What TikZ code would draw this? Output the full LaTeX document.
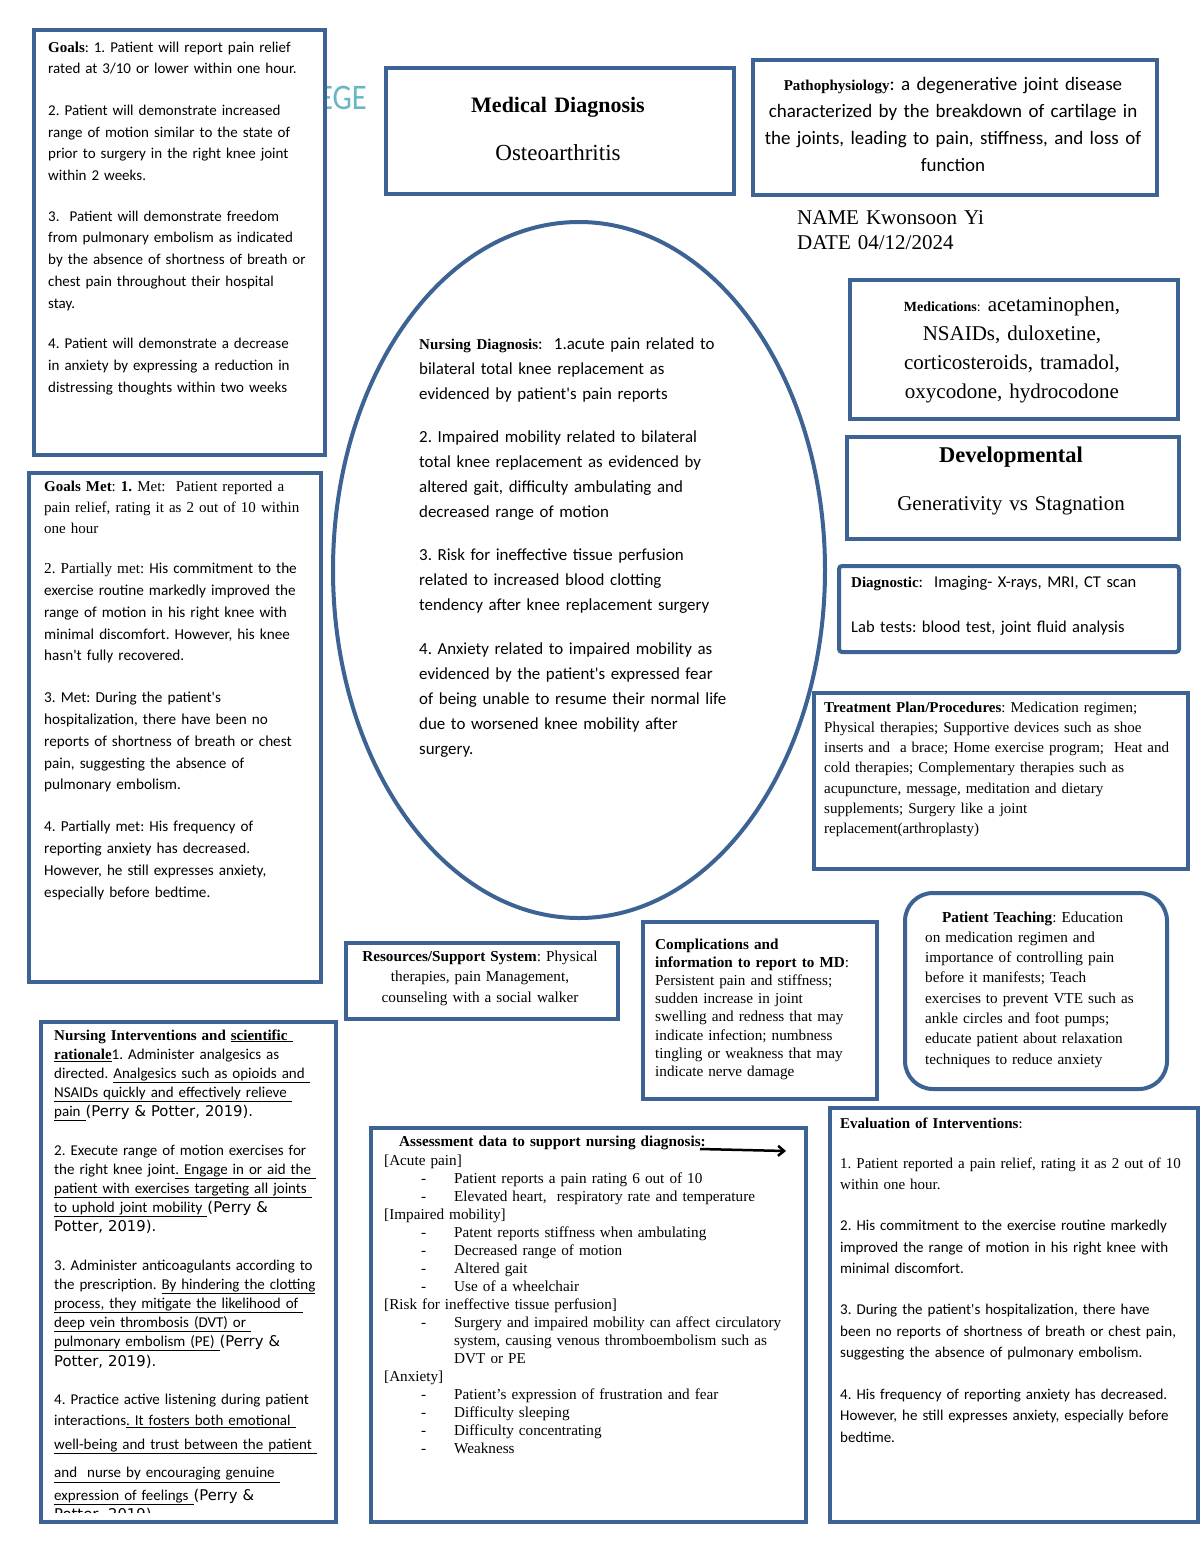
\documentclass[tikz,border=0pt]{standalone}
\usepackage{fontspec}
\setmainfont{Liberation Serif}
\newfontfamily\cf{Carlito}
\newfontfamily\vf{DejaVu Sans}
\usetikzlibrary{shapes.geometric,arrows.meta}
\definecolor{bx}{RGB}{60,99,147}
\definecolor{tealx}{RGB}{105,182,194}
\newcommand\bl{\makebox[70pt][l]{\hspace*{37pt}-}}
\newcommand\ind{\hspace*{70pt}}
\newcommand\cit[1]{{\vf\fontsize{14.8}{19}\selectfont #1}}
\newcommand\hd[1]{\textbf{\rmfamily #1}}
\frenchspacing
\begin{document}
\begin{tikzpicture}[x=1pt,y=-1pt,
  box/.style={draw=bx,line width=4pt,fill=white,inner sep=0pt,anchor=north west},
  txt/.style={inner sep=0pt,align=left,anchor=base west,text width=#1},
  ctxt/.style={inner sep=0pt,align=center,anchor=base,text width=#1}]
\useasboundingbox (0,0) rectangle (1200,1553);
\fill[white] (0,0) rectangle (1200,1553);

% faint heading fragment
\node[inner sep=0pt,anchor=base east,xscale=0.85,font=\cf\fontsize{36}{38}\selectfont,text=tealx] (ege) at (367,109) {EGE};

% central ellipse
\node[draw=bx,line width=4pt,ellipse,inner sep=0pt,minimum width=492,minimum height=696] (ell) at (579,570) {};

% boxes
\node[box,minimum width=291,minimum height=425] (goals) at (32,28) {};
\node[box,minimum width=292,minimum height=509] (met) at (27,471) {};
\node[box,minimum width=348,minimum height=126] (md) at (384,66) {};
\node[box,minimum width=404,minimum height=135] (patho) at (751,58) {};
\node[box,minimum width=328,minimum height=139] (meds) at (848,278) {};
\node[box,minimum width=332,minimum height=102] (dev) at (845,435) {};
\node[box,minimum width=340,minimum height=86,rounded corners=3pt] (diag) at (837,564) {};
\node[box,minimum width=374,minimum height=176] (treat) at (812,691) {};
\node[box,minimum width=272,minimum height=76] (res) at (344,941) {};
\node[box,minimum width=234,minimum height=177] (comp) at (641,920) {};
\node[box,minimum width=262,minimum height=196,rounded corners=28pt] (teach) at (903,891) {};
\node[box,minimum width=295,minimum height=500] (nint) at (39,1020) {};
\node[box,minimum width=435,minimum height=394] (assess) at (369,1126) {};
\node[box,minimum width=368,minimum height=414] (eval) at (828,1106) {};

% Goals
\node[txt=400pt,font=\cf\fontsize{15}{21.7}\selectfont] (goalsT) at (48,52) {\hd{Goals}: 1. Patient will report pain relief\\ rated at 3/10 or lower within one hour.\\[20pt] 2. Patient will demonstrate increased\\ range of motion similar to the state of\\ prior to surgery in the right knee joint\\ within 2 weeks.\\[19pt] 3.\ \ Patient will demonstrate freedom\\ from pulmonary embolism as indicated\\ by the absence of shortness of breath or\\ chest pain throughout their hospital\\ stay.\\[19pt] 4. Patient will demonstrate a decrease\\ in anxiety by expressing a reduction in\\ distressing thoughts within two weeks};

% Goals met
\node[txt=400pt,font=\cf\fontsize{15.2}{21.8}\selectfont] (metT) at (44,491) {{\rmfamily\fontsize{15}{21}\selectfont\textbf{Goals Met}: \textbf{1.} Met:\ \ Patient reported a\\ pain relief, rating it as 2 out of 10 within\\ one hour}\\[18pt] {\rmfamily 2. Partially met:} His commitment to the\\ exercise routine markedly improved the\\ range of motion in his right knee with\\ minimal discomfort. However, his knee\\ hasn't fully recovered.\\[20pt] 3. Met: During the patient's\\ hospitalization, there have been no\\ reports of shortness of breath or chest\\ pain, suggesting the absence of\\ pulmonary embolism.\\[20pt] 4. Partially met: His frequency of\\ reporting anxiety has decreased.\\ However, he still expresses anxiety,\\ especially before bedtime.};

% Medical diagnosis
\node[ctxt=340pt,font=\fontsize{22}{48}\selectfont] (mdT) at (558,112) {\textbf{Medical Diagnosis}\\ {\fontsize{23}{48}\selectfont Osteoarthritis}};

% Pathophysiology
\node[ctxt=400pt,font=\cf\fontsize{19}{27}\selectfont] (pathoT) at (953,90) {{\rmfamily\fontsize{15}{27}\selectfont\textbf{Pathophysiology}}: a degenerative joint disease\\ characterized by the breakdown of cartilage in\\ the joints, leading to pain, stiffness, and loss of\\ function};

% Name / date
\node[txt=300pt,font=\fontsize{21}{25}\selectfont] (nameT) at (797,224) {NAME Kwonsoon Yi\\ DATE 04/12/2024};

% Medications
\node[ctxt=330pt,font=\fontsize{21}{29}\selectfont] (medsT) at (1012,311) {{\fontsize{14}{29}\selectfont\textbf{Medications}:} acetaminophen,\\ NSAIDs, duloxetine,\\ corticosteroids, tramadol,\\ oxycodone, hydrocodone};

% Developmental
\node[ctxt=330pt,font=\fontsize{21}{48}\selectfont] (devT) at (1011,462) {{\fontsize{22.5}{48}\selectfont\textbf{Developmental}}\\ Generativity vs Stagnation};

% Diagnostic
\node[txt=330pt,font=\cf\fontsize{16.5}{45}\selectfont] (diagT) at (851,587) {{\fontsize{15}{45}\selectfont\hd{Diagnostic}}:\ \ Imaging- X-rays, MRI, CT scan\\ Lab tests: blood test, joint fluid analysis};

% Treatment
\node[txt=370pt,font=\fontsize{15}{20.3}\selectfont] (treatT) at (824,712) {\textbf{Treatment Plan/Procedures}: Medication regimen;\\ Physical therapies; Supportive devices such as shoe\\ inserts and\ \ a brace; Home exercise program;\ \ Heat and\\ cold therapies; Complementary therapies such as\\ acupuncture, message, meditation and dietary\\ supplements; Surgery like a joint\\ replacement(arthroplasty)};

% Nursing diagnosis (ellipse)
\node[txt=360pt,font=\cf\fontsize{16.9}{25}\selectfont] (ndT) at (419,349) {{\rmfamily\fontsize{15}{25}\selectfont\textbf{Nursing Diagnosis}}:\ \ 1.acute pain related to\\ bilateral total knee replacement as\\ evidenced by patient's pain reports\\[18pt] 2. Impaired mobility related to bilateral\\ total knee replacement as evidenced by\\ altered gait, difficulty ambulating and\\ decreased range of motion\\[18pt] 3. Risk for ineffective tissue perfusion\\ related to increased blood clotting\\ tendency after knee replacement surgery\\[19pt] 4. Anxiety related to impaired mobility as\\ evidenced by the patient's expressed fear\\ of being unable to resume their normal life\\ due to worsened knee mobility after\\ surgery.};

% Resources
\node[ctxt=270pt,font=\fontsize{15.2}{20.5}\selectfont] (resT) at (480,961) {\textbf{Resources/Support System}: Physical\\ therapies, pain Management,\\ counseling with a social walker};

% Complications
\node[txt=230pt,font=\fontsize{15.2}{18.2}\selectfont] (compT) at (655,949) {\textbf{Complications and}\\ \textbf{information to report to MD}:\\ Persistent pain and stiffness;\\ sudden increase in joint\\ swelling and redness that may\\ indicate infection; numbness\\ tingling or weakness that may\\ indicate nerve damage};

% Patient teaching
\node[txt=240pt,font=\fontsize{15.2}{20.3}\selectfont] (teachT) at (925,922) {\hspace*{17pt}\textbf{Patient Teaching}: Education\\ on medication regimen and\\ importance of controlling pain\\ before it manifests; Teach\\ exercises to prevent VTE such as\\ ankle circles and foot pumps;\\ educate patient about relaxation\\ techniques to reduce anxiety};

% Nursing interventions
\begin{scope}
\clip (41,1022) rectangle (332,1512);
\node[txt=400pt,font=\cf\fontsize{15}{19.2}\selectfont] (nintT) at (54,1040) {\hd{Nursing Interventions and \underline{scientific }}\\ \hd{\underline{rationale}}1. Administer analgesics as\\ directed. \underline{Analgesics such as opioids and }\\ \underline{NSAIDs quickly and effectively relieve }\\ \underline{pain }\cit{(Perry \& Potter, 2019).}\\[19pt] 2. Execute range of motion exercises for\\ the right knee joint\underline{. Engage in or aid the }\\ \underline{patient with exercises targeting all joints }\\ \underline{to uphold joint mobility }\cit{(Perry \&}\\ \cit{Potter, 2019).}\\[19pt] 3. Administer anticoagulants according to\\ the prescription. \underline{By hindering the clotting}\\ \underline{process, they mitigate the likelihood of }\\ \underline{deep vein thrombosis (DVT) or }\\ \underline{pulmonary embolism (PE) }\cit{(Perry \&}\\ \cit{Potter, 2019).}\\[19pt] 4. Practice active listening during patient\\[2pt] interactions\underline{. It fosters both emotional }\\[5pt] \underline{well-being and trust between the patient }\\[9pt] \underline{and\ \ nurse by encouraging genuine }\\[3pt] \underline{expression of feelings }\cit{(Perry \&}\\ \cit{Potter, 2019).}};
\end{scope}

% Assessment
\node[txt=400pt,font=\fontsize{15.2}{18}\selectfont] (assessH) at (399,1146) {\textbf{Assessment data to support nursing diagnosis:}};
\node[txt=420pt,font=\fontsize{15.2}{18}\selectfont] (assessT) at (384,1165) {[Acute pain]\\ \bl Patient reports a pain rating 6 out of 10\\ \bl Elevated heart,\ \ respiratory rate and temperature\\ {[}Impaired mobility]\\ \bl Patent reports stiffness when ambulating\\ \bl Decreased range of motion\\ \bl Altered gait\\ \bl Use of a wheelchair\\ {[}Risk for ineffective tissue perfusion]\\ \bl Surgery and impaired mobility can affect circulatory\\ \ind system, causing venous thromboembolism such as\\ \ind DVT or PE\\ {[}Anxiety]\\ \bl Patient’s expression of frustration and fear\\ \bl Difficulty sleeping\\ \bl Difficulty concentrating\\ \bl Weakness};
\coordinate (arS) at (700,1149);
\coordinate (arE) at (786,1151);
\draw[line width=2.5pt,-{Straight Barb[length=6pt,width=10pt]}] (arS) -- (arE);

% Evaluation
\node[txt=400pt,font=\cf\fontsize{15}{21.5}\selectfont] (evalT) at (840,1128) {\hd{Evaluation of Interventions}:\\[18.5pt] {\rmfamily 1. Patient reported a pain relief, rating it as 2 out of 10\\ within one hour.}\\[19.5pt] 2. His commitment to the exercise routine markedly\\ improved the range of motion in his right knee with\\ minimal discomfort.\\[19.5pt] 3. During the patient's hospitalization, there have\\ been no reports of shortness of breath or chest pain,\\ suggesting the absence of pulmonary embolism.\\[20pt] 4. His frequency of reporting anxiety has decreased.\\ However, he still expresses anxiety, especially before\\ bedtime.};
\end{tikzpicture}
\end{document}
